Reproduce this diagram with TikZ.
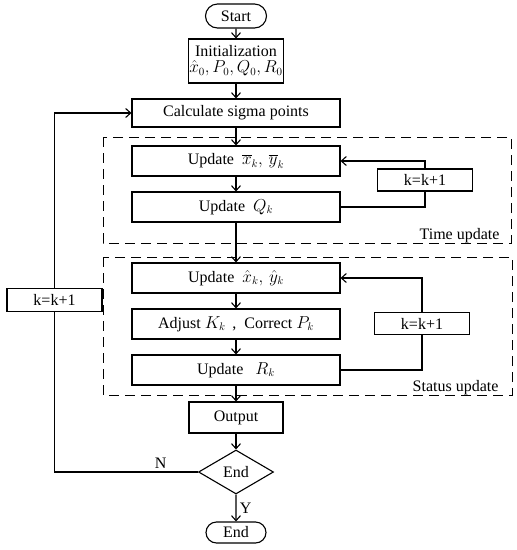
\documentclass[tikz,border=0pt]{standalone}
\usepackage{amsmath,amssymb}
\usepackage{fontspec}
\setmainfont{Liberation Serif}
\usepackage{tikz}
\usetikzlibrary{arrows.meta,shapes.geometric,shapes.misc}

\tikzset{
    proc/.style={draw,line width=1.1pt,minimum width=208pt,minimum height=30pt,inner sep=2pt},
    smallbox/.style={draw,line width=1.1pt,minimum width=95pt,minimum height=22pt,inner sep=1pt,fill=white},
    term/.style={draw,line width=1.1pt,rounded rectangle,minimum width=65pt,minimum height=24pt,inner sep=2pt},
    decide/.style={draw,line width=1.1pt,diamond,minimum width=75pt,minimum height=44pt,inner sep=0pt},
    flow/.style={line width=1.1pt,-{Straight Barb[length=5pt,width=9pt]}},
    link/.style={line width=1.1pt},
    group/.style={draw,line width=0.9pt,dash pattern=on 10pt off 6pt}
}

\begin{document}
\begin{tikzpicture}[x=1pt,y=-1pt,font=\fontsize{16pt}{18pt}\selectfont]
    \useasboundingbox (0,0) rectangle (517,550);

    % Dashed groups
    \draw[group] (103,137) rectangle (511,243);
    \node[anchor=base east] (tlabel) at (503,239) {Time update};
    \draw[group] (103,257) rectangle (512,395);
    \node[anchor=base east] (slabel) at (502,391) {Status update};

    % Main steps
    \node[term] (start) at (236,16) {Start};
    \node[proc,minimum width=94pt,minimum height=44pt,align=center,inner sep=1pt] (init) at (236,61)
        {Initialization\\[-2pt]$\hat{x}_0,P_0,Q_0,R_0$};
    \node[proc,minimum height=28pt] (sigma) at (236,113) {Calculate sigma points};
    \node[proc] (xbar) at (236,161) {Update \ $\overline{x}_k,\,\overline{y}_k$};
    \node[proc] (qk) at (236,207) {Update \ $Q_k$};
    \node[proc] (xhat) at (236,278) {Update \ $\hat{x}_k,\,\hat{y}_k$};
    \node[proc] (adj) at (236,324) {Adjust $K_k$ \,, \ Correct $P_k$};
    \node[proc] (rk) at (236,370) {Update \ \ $R_k$};
    \node[proc,minimum width=94pt,minimum height=31pt] (out) at (236,417.5) {Output};
    \node[decide] (dec) at (236,472) {End};
    \node[term,minimum width=64pt,minimum height=21pt] (stop) at (236,532.5) {End};

    % Counter boxes
    \node[smallbox] (kt) at (425,180) {k=k+1};
    \node[smallbox] (ks) at (422,323.5) {k=k+1};
    \node[smallbox,minimum height=23pt] (kl) at (54.5,300) {k=k+1};

    % Forward flow
    \draw[flow] (start) -- (init);
    \draw[flow] (init) -- (sigma);
    \draw[flow] (sigma) -- (xbar);
    \draw[flow] (xbar) -- (qk);
    \draw[flow] (qk) -- (xhat);
    \draw[flow] (xhat) -- (adj);
    \draw[flow] (adj) -- (rk);
    \draw[flow] (rk) -- (out);
    \draw[flow] (out) -- (dec);
    \draw[flow] (dec) -- node[right] {Y} (stop);

    % Loops
    \draw[link] (qk.east) -| (kt.south);
    \draw[flow] (kt.north) |- (xbar.east);
    \draw[link] (rk.east) -| (ks.south);
    \draw[flow] (ks.north) |- (xhat.east);
    \draw[link] (dec.west) -| node[pos=0.13,above] {N} (kl.south);
    \draw[flow] (kl.north) |- (sigma.west);
\end{tikzpicture}
\end{document}
